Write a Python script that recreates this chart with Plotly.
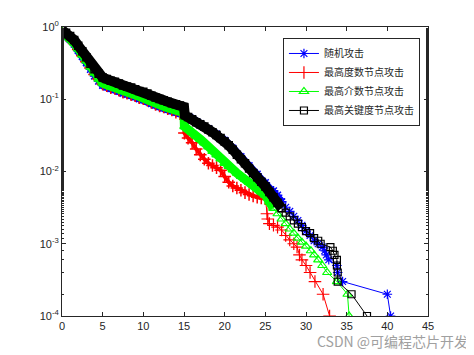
import plotly.graph_objects as go

# ---------------- data ----------------
random_x = [0, 0.5, 1, 1.5, 2, 2.5, 3, 3.5, 4, 4.5, 5, 5.5, 6, 6.5, 7, 7.5, 8, 8.5, 9, 9.5,
            10, 10.5, 11, 11.5, 12, 12.5, 13, 13.5, 14, 14.5, 15, 15.1, 16, 17, 18, 19, 20, 21, 22,
            23, 24, 25, 26, 26.5, 27, 27.5, 28, 28.5, 29, 29.5, 30, 30.5, 31, 31.5, 32, 32.3,
            32.5, 32.8, 33.8, 33.9, 34.5, 40.0, 40.4]
random_y = [0.84, 0.76, 0.68, 0.58, 0.47, 0.39, 0.32, 0.26, 0.21, 0.178, 0.156, 0.148, 0.14, 0.137,
            0.129, 0.121, 0.117, 0.113, 0.108, 0.101, 0.099, 0.094, 0.087, 0.083, 0.079, 0.076,
            0.072, 0.069, 0.066, 0.064, 0.061, 0.06, 0.054, 0.046, 0.039, 0.033, 0.027, 0.021,
            0.016, 0.012, 0.0092, 0.007, 0.0054, 0.0047, 0.0038, 0.0032, 0.0028, 0.0024, 0.0021,
            0.0018, 0.0015, 0.0013, 0.0011, 0.001, 0.0009, 0.0008, 0.0007, 0.0006, 0.0005,
            0.0004, 0.0003, 0.0002, 0.0001]

degree_x = [0, 0.5, 1, 1.5, 2, 2.5, 3, 3.5, 4, 4.5, 5, 5.5, 6, 6.5, 7, 7.5, 8, 8.5, 9, 9.5,
            10, 10.5, 11, 11.5, 12, 12.5, 13, 13.5, 14, 14.5, 15, 15.05, 15.5, 16, 16.5, 17, 17.5,
            18, 18.5, 19, 19.5, 20, 20.5, 21, 21.5, 22, 22.5, 23, 23.5, 24, 24.5, 25, 25.2, 25.3,
            25.5, 26, 26.5, 27, 27.5, 28, 28.5, 28.9, 29.2, 29.5, 30, 30.5, 31.1, 32.1, 32.9]
degree_y = [0.84, 0.77, 0.69, 0.59, 0.49, 0.4, 0.33, 0.27, 0.22, 0.19, 0.162, 0.154, 0.145, 0.141,
            0.133, 0.125, 0.121, 0.116, 0.112, 0.105, 0.102, 0.097, 0.09, 0.085, 0.081, 0.078,
            0.074, 0.071, 0.066, 0.063, 0.06, 0.034, 0.029, 0.025, 0.0205, 0.017, 0.0148, 0.013,
            0.0121, 0.0113, 0.0104, 0.0085, 0.0071, 0.0063, 0.0059, 0.0055, 0.0051, 0.0048,
            0.0046, 0.0044, 0.0043, 0.0042, 0.0026, 0.0022, 0.0019, 0.0018, 0.0017, 0.00155,
            0.0013, 0.00113, 0.001, 0.0009, 0.0007, 0.0006, 0.0005, 0.0004, 0.0003, 0.0002,
            0.0001]

between_x = [0, 0.5, 1, 1.5, 2, 2.5, 3, 3.5, 4, 4.5, 5, 5.5, 6, 6.5, 7, 7.5, 8, 8.5, 9, 9.5,
             10, 10.5, 11, 11.5, 12, 12.5, 13, 13.5, 14, 14.5, 15, 15.05, 15.5, 16, 16.5, 17,
             17.5, 18, 18.5, 19, 19.5, 20, 20.5, 21, 21.5, 22, 22.5, 23, 23.5, 24, 24.5, 25, 25.5,
             26, 26.5, 27, 27.5, 28, 28.5, 29, 29.5, 30, 30.6, 31, 31.5, 32, 32.6, 33.8, 35.1, 35.3]
between_y = [0.86, 0.78, 0.7, 0.6, 0.5, 0.41, 0.34, 0.28, 0.23, 0.19, 0.166, 0.158, 0.149, 0.145,
             0.137, 0.129, 0.125, 0.12, 0.115, 0.108, 0.105, 0.1, 0.093, 0.088, 0.084, 0.08,
             0.076, 0.073, 0.071, 0.068, 0.065, 0.042, 0.039, 0.035, 0.031, 0.028, 0.025, 0.022,
             0.019, 0.017, 0.015, 0.013, 0.0118, 0.0106, 0.0095, 0.0086, 0.0078, 0.0071, 0.0065,
             0.0059, 0.0053, 0.0047, 0.0038, 0.0031, 0.0026, 0.0022, 0.0019, 0.0016, 0.0014,
             0.0012, 0.00105, 0.00093, 0.0008, 0.0007, 0.0006, 0.0005, 0.0004, 0.0003, 0.0002,
             0.0001]

key_x = [0, 0.5, 1, 1.5, 2, 2.5, 3, 3.5, 4, 4.5, 5, 5.5, 6, 6.5, 7, 7.5, 8, 8.5, 9, 9.5,
         10, 10.5, 11, 11.5, 12, 12.5, 13, 13.5, 14, 14.5, 15, 15.1, 15.5, 16, 16.5, 17, 17.5, 18,
         18.5, 19, 19.5, 20, 20.5, 21, 21.5, 22, 22.5, 23, 23.5, 24, 24.5, 25, 25.5, 26, 26.5,
         27, 27.5, 28, 28.5, 29, 29.5, 30, 30.5, 31, 31.5, 31.8, 33.0, 33.3, 33.5, 33.8, 33.8,
         33.9, 33.9, 35.6, 37.5]
key_y = [0.91, 0.83, 0.75, 0.66, 0.55, 0.46, 0.38, 0.31, 0.26, 0.225, 0.2, 0.19, 0.18, 0.175,
         0.165, 0.155, 0.15, 0.145, 0.138, 0.13, 0.127, 0.12, 0.112, 0.106, 0.101, 0.097, 0.092,
         0.088, 0.085, 0.082, 0.078, 0.06, 0.057, 0.053, 0.048, 0.045, 0.042, 0.038, 0.035,
         0.032, 0.029, 0.026, 0.023, 0.02, 0.017, 0.0148, 0.013, 0.011, 0.0095, 0.0083, 0.0072,
         0.0062, 0.0052, 0.0044, 0.0037, 0.0031, 0.0027, 0.0024, 0.0021, 0.0019, 0.0017,
         0.0015, 0.0014, 0.0012, 0.0011, 0.001, 0.0009, 0.0008, 0.0007, 0.0006, 0.0005,
         0.0004, 0.0003, 0.0002, 0.0001]

series_names = ["随机攻击", "最高度数节点攻击", "最高介数节点攻击", "最高关键度节点攻击"]
x_ticks = [0, 5, 10, 15, 20, 25, 30, 35, 40, 45]
y_ticks = [1e-4, 1e-3, 1e-2, 1e-1, 1]
y_tick_text = ["10<sup>-4</sup>", "10<sup>-3</sup>", "10<sup>-2</sup>", "10<sup>-1</sup>", "10<sup>0</sup>"]
watermark = "CSDN @可编程芯片开发"

# ---------------- style ----------------
styles = [
    dict(x=random_x, y=random_y, color="#0000ff", symbol="asterisk-open", split=27, band=8, msize=8),
    dict(x=degree_x, y=degree_y, color="#ff0000", symbol="cross-thin-open", split=25, band=4, msize=9),
    dict(x=between_x, y=between_y, color="#00ff00", symbol="triangle-up-open", split=26, band=9, msize=8),
    dict(x=key_x, y=key_y, color="#000000", symbol="square-open", split=27, band=10, msize=7),
]

fig = go.Figure()
for name, s in zip(series_names, styles):
    dense = [(a, b) for a, b in zip(s["x"], s["y"]) if a <= s["split"]]
    tail = [(a, b) for a, b in zip(s["x"], s["y"]) if a >= s["split"] - 0.01]
    # dense part: overlapping markers render as a solid band
    fig.add_trace(go.Scatter(
        x=[p[0] for p in dense], y=[p[1] for p in dense], mode="lines+markers",
        line=dict(color=s["color"], width=s["band"]),
        marker=dict(symbol=s["symbol"], size=s["msize"], color=s["color"],
                    line=dict(color=s["color"], width=1.5)),
        showlegend=False, hoverinfo="skip"))
    fig.add_trace(go.Scatter(
        x=[p[0] for p in tail], y=[p[1] for p in tail], mode="lines+markers", name=name,
        line=dict(color=s["color"], width=1),
        marker=dict(symbol=s["symbol"], size=s["msize"], color=s["color"],
                    line=dict(color=s["color"], width=1.2))))

axis_common = dict(showline=True, linecolor="#262626", linewidth=1, mirror="ticks",
                   ticks="inside", ticklen=4, tickcolor="#262626", showgrid=False,
                   zeroline=False, automargin=False,
                   tickfont=dict(family="Liberation Sans, Arial", size=11, color="#262626"))

# the page body adds an 8px offset, so the figure is 8px smaller than the window
fig.update_layout(
    width=466, height=347,
    margin=dict(l=54, r=46, t=19, b=39, autoexpand=False),
    paper_bgcolor="white", plot_bgcolor="white",
    xaxis=dict(range=[0, 45], tickvals=x_ticks, **axis_common),
    yaxis=dict(type="log", range=[-4, 0], tickvals=y_ticks, ticktext=y_tick_text,
               minor=dict(ticks="inside", ticklen=2, tickcolor="#262626", showgrid=False),
               **axis_common),
    legend=dict(x=0.978, y=0.962, xanchor="right", yanchor="top",
                bgcolor="white", bordercolor="#262626", borderwidth=1,
                font=dict(family="Noto Sans CJK SC", size=10, color="#262626"),
                tracegroupgap=0, itemwidth=30),
    annotations=[dict(text=watermark, xref="paper", yref="paper",
                      x=1.115, y=-0.087, xanchor="right", yanchor="middle", showarrow=False,
                      font=dict(family="Noto Sans CJK SC", size=14, color="#a0a0a0"))],
)

fig.write_html("out.html")
